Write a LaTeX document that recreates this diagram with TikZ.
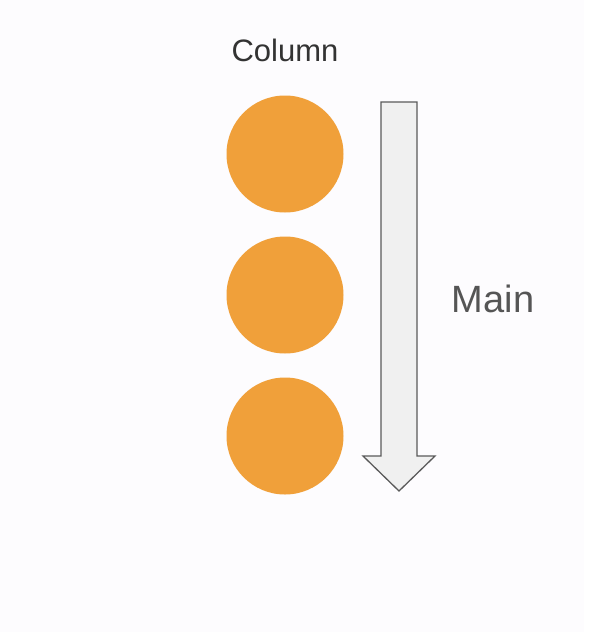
\documentclass[tikz,border=0pt]{standalone}
\usepackage{fontspec}
\setmainfont{Liberation Sans}
\definecolor{bgc}{HTML}{FDFCFE}
\definecolor{dotc}{HTML}{F0A03A}
\definecolor{arrfill}{HTML}{F0F0F0}
\definecolor{arrline}{HTML}{5A5A5A}
\definecolor{txtc}{HTML}{333333}
\definecolor{maintxt}{HTML}{555555}
\begin{document}
\begin{tikzpicture}[x=1pt,y=-1pt,
  dot/.style={circle,fill=dotc,draw=none,minimum size=117pt,inner sep=0pt},
  lbl/.style={inner sep=0pt,anchor=base}]
\useasboundingbox (0,0) rectangle (590,640);
\fill[white] (0,0) rectangle (590,640);
\fill[bgc] (0,0) rectangle (584,632);
\node[lbl,text=txtc,font=\fontsize{31}{31}\selectfont] (col) at (285,61) {Column};
\node[dot] (c1) at (285,154) {};
\node[dot] (c2) at (285,295) {};
\node[dot] (c3) at (285,436) {};
\draw[arrline,fill=arrfill,line width=1.3pt,line join=miter]
  (381,102) -- (417,102) -- (417,456) -- (435,456) -- (399,491)
  -- (363,456) -- (381,456) -- cycle;
\node[lbl,text=maintxt,font=\fontsize{38}{38}\selectfont] (main) at (493,312) {Main};
\end{tikzpicture}
\end{document}
